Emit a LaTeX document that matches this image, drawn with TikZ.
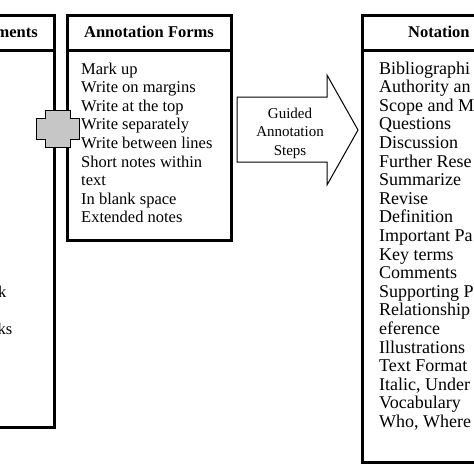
\documentclass[tikz,border=0pt]{standalone}
\usepackage{fontspec}
\setmainfont{Liberation Serif}
\begin{document}
\begin{tikzpicture}[x=1pt,y=-1pt,
    boxline/.style={line width=3pt},
    headtext/.style={font=\fontsize{16.5}{18}\selectfont\bfseries, inner sep=0pt},
    formtext/.style={font=\fontsize{16.5}{18.6}\selectfont, inner sep=0pt, anchor=base west},
    notetext/.style={font=\fontsize{18}{18.6}\selectfont, inner sep=0pt, anchor=base west},
    steptext/.style={font=\fontsize{15}{18.5}\selectfont, inner sep=0pt, align=center}]
    % Rahmen des Bildes
    \clip (0,0) rectangle (474,474);
    \fill[white] (0,0) rectangle (474,474);

    % Linker Kasten (am Rand abgeschnitten)
    \draw[boxline] (-100,15) rectangle (54,427);
    \draw[boxline] (-100,50) -- (54,50);
    \node[headtext, anchor=base east] (matHead) at (38,37) {ments};
    \node[formtext, anchor=base east] (mat1) at (6.5,297) {k};
    \node[formtext, anchor=base east] (mat2) at (12.5,334.5) {ks};

    % Kasten Annotation Forms
    \draw[boxline] (67,15) rectangle (231,240);
    \draw[boxline] (67,50) -- (231,50);
    \node[headtext, anchor=base] (formHead) at (149,37) {Annotation Forms};
    \foreach \t [count=\i] in {Mark up, Write on margins, Write at the top,
        Write separately, Write between lines, Short notes within, text,
        In blank space, Extended notes}
        \node[formtext] (form\i) at (81,{74+18.6*(\i-1)}) {\t};

    % Kasten Notation (am Rand abgeschnitten)
    \draw[boxline] (362,15) rectangle (560,462);
    \draw[boxline] (362,50) -- (560,50);
    \node[headtext, anchor=base west] (noteHead) at (408,37) {Notation};
    \foreach \t [count=\i] in {Bibliographi, Authority an, Scope and M,
        Questions, Discussion, Further Rese, Summarize, Revise, Definition,
        Important Pa, Key terms, Comments, Supporting P, Relationship,
        eference, Illustrations, Text Format, {Italic, Under}, Vocabulary,
        {Who, Where}}
        \node[notetext] (note\i) at (379,{74+18.6*(\i-1)}) {\t};

    % Kreuz zwischen den Kaesten
    \draw[fill=gray!45, line width=0.6pt] (45,110) -- (70,110) -- (70,118)
        -- (79,118) -- (79,139) -- (70,139) -- (70,147) -- (45,147)
        -- (45,139) -- (36,139) -- (36,118) -- (45,118) -- cycle;

    % Pfeil
    \draw[fill=white, line width=1pt] (237,97) -- (327,97) -- (327,75)
        -- (358,130) -- (327,185) -- (327,162) -- (237,162) -- cycle;
    \node[steptext] (steps) at (290,133) {Guided\\Annotation\\Steps};
\end{tikzpicture}
\end{document}
